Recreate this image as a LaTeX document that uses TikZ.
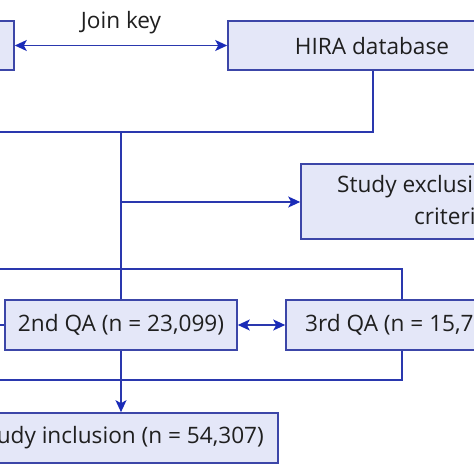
\documentclass[tikz,border=0pt]{standalone}
\usepackage{fontspec}
\setmainfont{Open Sans}
\usetikzlibrary{arrows.meta}
\definecolor{boxfill}{HTML}{E4E7F8}
\definecolor{boxline}{HTML}{3C46A8}
\definecolor{conn}{HTML}{2A38AE}
\definecolor{tipc}{HTML}{1A2BB8}
\tikzset{
  px/.style={x=1bp,y=-1bp},
  flowbox/.style={draw=boxline,fill=boxfill,line width=1.6bp,rectangle,inner sep=0pt},
  conline/.style={draw=conn,line width=1.6bp},
  tip/.style={-{Stealth[length=12bp,width=11bp,inset=3bp,fill=tipc,color=tipc]}},
  dtip/.style={{Stealth[length=12bp,width=11bp,inset=3bp,fill=tipc,color=tipc]}-{Stealth[length=12bp,width=11bp,inset=3bp,fill=tipc,color=tipc]}},
  lbl/.style={font=\fontsize{22.7}{26}\selectfont,text=black!88,inner sep=0pt}
}
\begin{document}
\begin{tikzpicture}[px]
\useasboundingbox (0,0) rectangle (474,474);
\clip (0,0) rectangle (474,474);
\fill[white] (0,0) rectangle (474,474);
% boxes
\node[flowbox,minimum width=114bp,minimum height=49bp] (left) at (-43,45.5) {};
\node[flowbox,minimum width=288bp,minimum height=49bp] (hira) at (372,45.5) {};
\node[lbl] (hiratxt) at (372,46) {HIRA database};
\node[flowbox,minimum width=260bp,minimum height=75bp] (excl) at (431,201.5) {};
\node[lbl,anchor=west] (excl1) at (337,187) {Study exclusion};
\node[lbl,anchor=west] (excl2) at (414,216) {criteria};
\node[flowbox,minimum width=232bp,minimum height=50bp] (qa2) at (121,325) {};
\node[lbl] (qa2txt) at (121,325) {2nd QA (n = 23,099)};
\node[flowbox,minimum width=232bp,minimum height=50bp] (qa3) at (402,325) {};
\node[lbl,anchor=west] (qa3txt) at (305,325) {3rd QA (n = 15,772)};
\node[flowbox,minimum width=340bp,minimum height=50bp] (incl) at (108,438) {};
\node[lbl,anchor=east] (incltxt) at (264,438) {Study inclusion (n = 54,307)};
\node[lbl] (join) at (121,23) {Join key};
% free ends
\coordinate (a1) at (-20,132);
\coordinate (a2) at (-20,269);
\coordinate (a3) at (-20,325);
\coordinate (a4) at (-20,380);
\coordinate (j1) at (373,132);
\coordinate (j2) at (121,132);
\coordinate (j3) at (121,202);
\coordinate (j4) at (402,269);
\coordinate (j5) at (402,380);
% connectors
\draw[conline,dtip] (left.east) -- (hira.west);
\draw[conline] (hira.south -| j1) -- (j1) -- (a1);
\draw[conline] (j2) -- (qa2.north);
\draw[conline,tip] (j3) -- (excl.west |- j3);
\draw[conline] (a2) -- (j4) -- (qa3.north);
\draw[conline] (a3) -- (qa2.west);
\draw[conline,dtip] (qa2.east) -- (qa3.west);
\draw[conline] (qa3.south) -- (j5) -- (a4);
\draw[conline,tip] (qa2.south) -- (incl.north -| qa2.south);
\end{tikzpicture}
\end{document}
